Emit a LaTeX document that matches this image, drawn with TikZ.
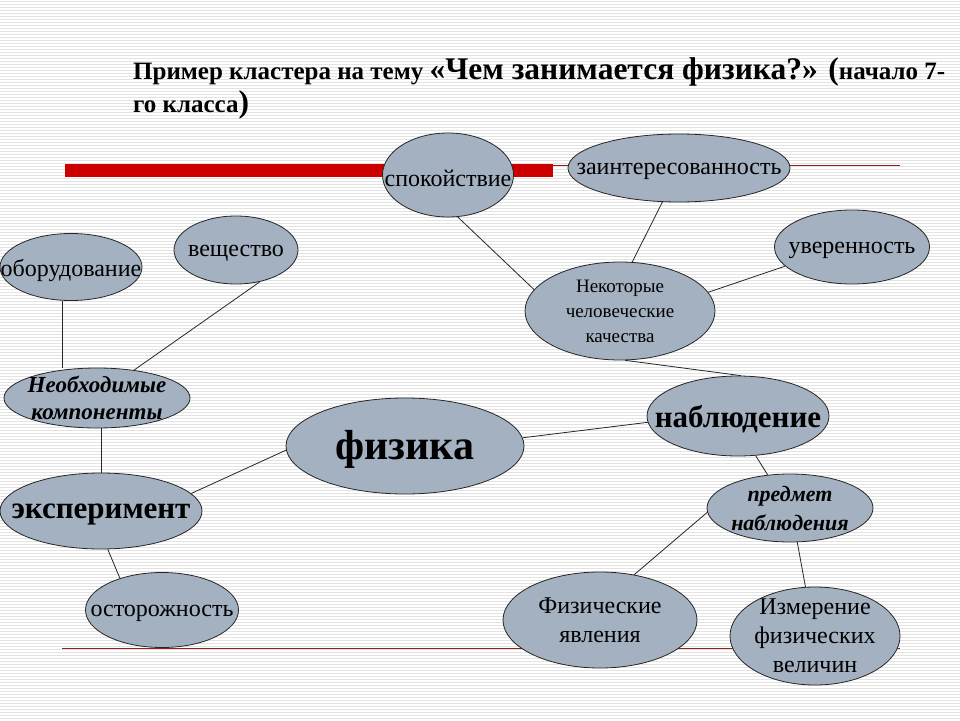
\documentclass[tikz,border=0pt]{standalone}
\usepackage{fontspec}
\setmainfont{Liberation Serif}
\usetikzlibrary{shapes.geometric}
\definecolor{bubblefill}{RGB}{164,177,193}
\definecolor{barred}{RGB}{204,0,0}
\definecolor{thinred}{RGB}{150,30,30}
\newcommand\pxsize[2]{\fontsize{#1}{#2}\selectfont}
\tikzset{
  bubble/.style 2 args={ellipse,draw=black!85,fill=bubblefill,inner sep=0pt,
    line width=0.8pt,minimum width=#1,minimum height=#2},
  word/.style={align=center,inner sep=0pt},
  oneline/.style={word,yshift=-3pt},
  link/.style={draw=black!85,line width=0.8pt},
  stripe/.style={draw=gray!22,line width=1pt}
}

\begin{document}
\begin{tikzpicture}[x=1pt,y=-1pt]
\useasboundingbox (0,0) rectangle (960,720);
\foreach \y in {1,4,...,720}
  \draw[stripe] (0,\y) -- (960,\y);
\fill[barred] (65,164) rectangle (553,177);
\draw[thinred,line width=1pt] (553,165) -- (900,165);
\draw[thinred,line width=1pt] (62,648) -- (900,648);
\node[anchor=north west,align=left,inner sep=0pt,font=\bfseries\pxsize{25}{33}] (title) at (133,57)
  {Пример кластера на тему {\pxsize{31.5}{33}«Чем занимается физика?» (}{\pxsize{25}{33}начало 7-}\\
   го класса{\pxsize{31.5}{33})}};
% top group
\node[bubble={131pt}{84pt},label={[oneline,font=\pxsize{24}{28}]center:спокойствие}] (spok) at (448,175) {};
\node[bubble={222pt}{68pt},label={[oneline,font=\pxsize{24}{28}]center:заинтересованность}] (zain) at (679,168) {};
\node[bubble={155pt}{74pt},label={[oneline,font=\pxsize{24}{28}]center:уверенность}] (uver) at (852,247) {};
\node[bubble={190pt}{98pt},label={[word,font=\pxsize{19}{25}]center:Некоторые\\человеческие\\качества}] (kach) at (620,311) {};
% left group
\node[bubble={142pt}{67pt},label={[oneline,font=\pxsize{24}{28}]center:оборудование}] (obor) at (71,267) {};
\node[bubble={124pt}{68pt},label={[oneline,font=\pxsize{24}{28}]center:вещество}] (vesh) at (236,250) {};
\node[bubble={186pt}{60pt},label={[word,font=\bfseries\itshape\pxsize{23}{27}]center:Необходимые\\компоненты}] (neobh) at (97,398) {};
\node[bubble={202pt}{76pt},label={[oneline,font=\bfseries\pxsize{31}{34}]center:эксперимент}] (eksp) at (101,511) {};
\node[bubble={153pt}{75pt},label={[oneline,font=\pxsize{24}{28}]center:осторожность}] (ostor) at (162,610) {};
% centre and right group
\node[bubble={238pt}{96pt},label={[oneline,font=\bfseries\pxsize{42}{46}]center:физика}] (fiz) at (405,446) {};
\node[bubble={182pt}{80pt},label={[oneline,font=\bfseries\pxsize{31}{34}]center:наблюдение}] (nabl) at (738,416) {};
\node[bubble={166pt}{68pt},label={[word,font=\bfseries\itshape\pxsize{22}{29}]center:предмет\\наблюдения}] (predm) at (790,508) {};
\node[bubble={194pt}{96pt},label={[word,font=\pxsize{24}{29}]center:Физические\\явления}] (yavl) at (600,620) {};
\node[bubble={170pt}{98pt},label={[word,font=\pxsize{24}{29}]center:Измерение\\физических\\величин}] (izmer) at (815,636) {};
% connectors
\draw[link] (spok.-77) -- (kach.166);
\draw[link] (zain.244) -- (kach.76);
\draw[link] (uver.196) -- (kach.12);
\draw[link] (kach.-84) -- (nabl.86);
\draw[link] (nabl.184) -- (fiz.4);
\draw[link] (nabl.-66) -- (predm.124);
\draw[link] (predm.183) -- (yavl.53);
\draw[link] (predm.-78) -- (izmer.101);
\draw[link] (fiz.182) -- (eksp.11);
\draw[link] (eksp.north) -- (eksp.north |- neobh.south);
\draw[link] (obor.-105) -- (obor.-105 |- neobh.north);
\draw[link] (neobh.37) -- (vesh.-53);
\draw[link] (eksp.-80) -- (ostor.143);
\end{tikzpicture}
\end{document}
